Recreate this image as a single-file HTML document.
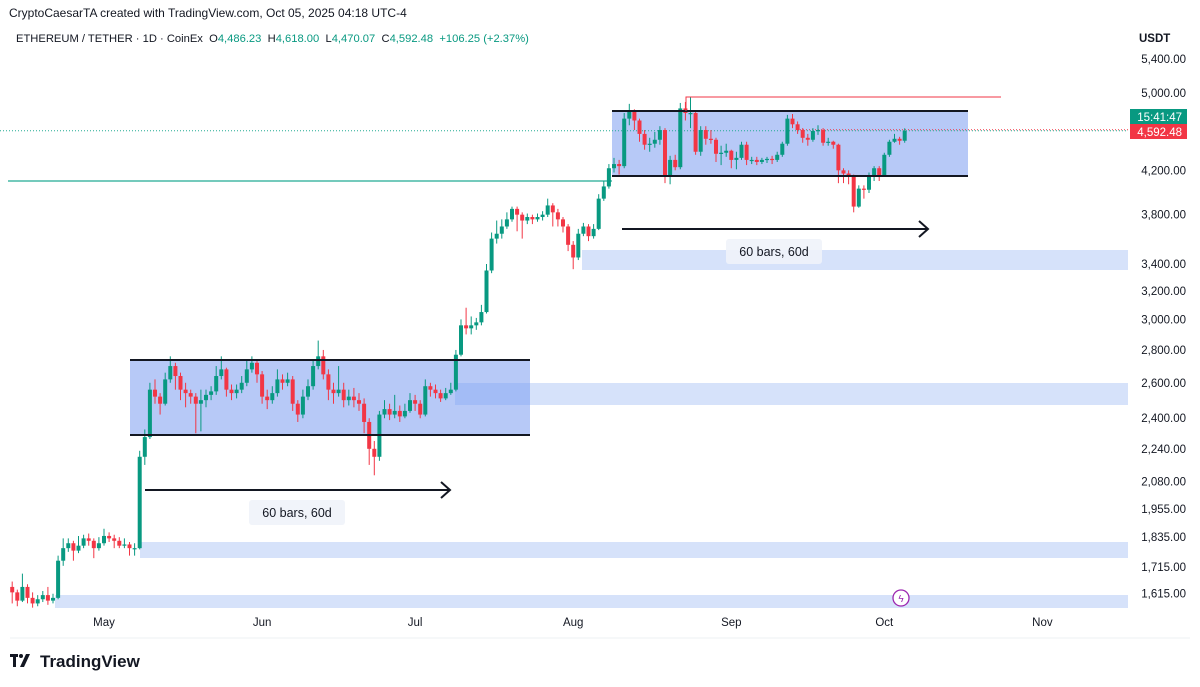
<!DOCTYPE html>
<html><head><meta charset="utf-8"><style>
body{margin:0;background:#fff;width:1200px;height:687px;overflow:hidden;font-family:"Liberation Sans",sans-serif;}
svg{position:absolute;left:0;top:0}
</style></head><body>
<svg id="chart" width="1200" height="687" viewBox="0 0 1200 687" xmlns="http://www.w3.org/2000/svg">
<text x="9" y="17" font-size="12" fill="#131722">CryptoCaesarTA created with TradingView.com, Oct 05, 2025 04:18 UTC-4</text>
<g font-size="11.2">
<text x="16" y="42" fill="#131722" style="white-space:pre">ETHEREUM / TETHER · 1D · CoinEx  O<tspan fill="#089981">4,486.23</tspan>  H<tspan fill="#089981">4,618.00</tspan>  L<tspan fill="#089981">4,470.07</tspan>  C<tspan fill="#089981">4,592.48</tspan>  <tspan fill="#089981">+106.25 (+2.37%)</tspan></text>
</g>
<text x="1139" y="42" font-size="11.5" font-weight="bold" fill="#131722">USDT</text>
<g id="zones"></g>
<g id="candles"></g>
<g id="overlay"></g>
<g id="yaxis" font-size="11.5" fill="#131722"></g>
<g id="xaxis" font-size="11.5" fill="#131722"></g>
<line x1="10" y1="638" x2="1190" y2="638" stroke="#eef0f3" stroke-width="1"/>
<g>
<rect x="10" y="654" width="8" height="3" fill="#131722"/><rect x="13" y="654" width="3" height="13" fill="#131722"/><polygon points="20,667 26,654 30,654 24,667" fill="#131722"/><circle cx="21" cy="656" r="2" fill="#131722"/>
<text x="40" y="667" font-size="17" font-weight="bold" fill="#131722">TradingView</text>
</g>
<g><circle cx="901" cy="598" r="8" fill="#fff" stroke="#9c27b0" stroke-width="1.3"/><text x="901" y="602" font-size="10" text-anchor="middle" fill="#9c27b0">ϟ</text></g>
</svg>
<script>
const closes=[1620,1590,1640,1600,1580,1595,1610,1590,1600,1740,
1790,1810,1780,1800,1830,1820,1790,1810,1840,1830,1820,1800,1805,1790,1790,
2200,
2300,2560,2520,2480,2620,2700,2640,2560,2540,2520,2480,2500,2530,2550,2640,2680,2560,2540,2560,2600,2680,2720,2650,
2520,2500,2540,2620,2600,2620,2480,2420,2520,2580,2700,2760,2650,2560,2540,2560,2500,2520,2500,2480,2380,2240,2200,2420,2450,2420,2440,2410,2440,2500,
2480,2420,2580,2560,2540,2510,2540,2560,
2770,2960,2940,2960,2980,3050,3350,3600,3640,3700,3760,3850,3800,3750,3780,3760,3780,3800,3880,3820,3760,3700,3550,3450,3640,3700,3620,3680,
3940,4050,4220,4260,4240,4720,4800,4700,4560,4450,4460,4500,4600,4150,4300,4230,
4830,4780,4780,4380,4600,4510,4500,4360,4370,4390,4300,4320,4450,4300,4300,4280,4300,4310,4300,4350,4460,4720,4660,4600,4520,4500,4590,4600,4470,4480,4450,4200,4170,4150,3870,4030,4020,4140,4220,4150,4350,4480,4510,4490,4592];
const highs=[1660,1630,1690,1650,1620,1610,1625,1640,1615,1760,
1830,1830,1820,1840,1845,1850,1830,1835,1870,1855,1845,1835,1830,1815,1810,
2230,
2340,2600,2620,2540,2660,2760,2720,2660,2600,2560,2540,2560,2560,2580,2700,2760,2690,2590,2590,2640,2740,2760,2740,
2670,2560,2580,2680,2650,2660,2640,2500,2560,2620,2740,2860,2800,2680,2600,2700,2600,2560,2570,2540,2510,2400,2280,2440,2500,2480,2530,2470,2480,2540,
2530,2500,2620,2600,2590,2560,2570,2600,
2800,3000,3080,3020,3010,3100,3400,3650,3750,3760,3820,3870,3870,3820,3810,3800,3810,3830,3940,3900,3850,3780,3720,3580,3680,3730,3720,3720,
3980,4100,4260,4320,4300,4780,4880,4820,4720,4600,4520,4580,4640,4620,4340,4350,
4890,4900,4956,4790,4640,4640,4600,4520,4440,4460,4400,4380,4480,4480,4330,4330,4320,4330,4340,4380,4480,4760,4770,4690,4620,4560,4620,4650,4620,4520,4490,4460,4220,4200,4160,4060,4060,4180,4240,4240,4370,4500,4560,4530,4618];
const lows=[1580,1570,1585,1580,1565,1570,1585,1575,1580,1595,
1720,1775,1740,1770,1790,1800,1750,1780,1800,1815,1790,1790,1790,1760,1760,
1785,
2160,2290,2480,2420,2470,2600,2560,2500,2460,2480,2320,2330,2460,2500,2530,2620,2520,2500,2510,2540,2580,2660,2600,
2480,2450,2480,2520,2560,2580,2440,2380,2400,2500,2560,2680,2620,2500,2480,2520,2460,2470,2460,2440,2320,2160,2110,2180,2400,2390,2400,2380,2400,2430,
2440,2400,2410,2520,2510,2490,2500,2530,
2550,2760,2900,2900,2930,2960,3040,3330,3560,3600,3680,3740,3660,3600,3720,3720,3740,3750,3780,3700,3700,3650,3500,3360,3430,3620,3580,3600,
3670,3920,4030,4180,4160,4220,4650,4600,4480,4400,4380,4420,4450,4080,4070,4200,
4210,4700,4620,4350,4340,4450,4460,4280,4250,4330,4220,4210,4300,4250,4260,4250,4260,4270,4260,4280,4330,4440,4620,4560,4470,4440,4480,4550,4440,4440,4410,4080,4080,4070,3820,3860,3940,3990,4100,4100,4140,4330,4470,4450,4470];
const firstOpen=1640;
const firstDay=-18;
const priceTicks=[5400,5000,4200,3800,3400,3200,3000,2800,2600,2400,2240,2080,1955,1835,1715,1615];
const monthLabels=["May","Jun","Jul","Aug","Sep","Oct","Nov"];
const monthDays=[0,31,61,92,123,153,184];

const NS="http://www.w3.org/2000/svg";
function X(d){return 104+d*5.1;}
function Y(p){return 59+Math.log(5400/p)*443;}
function el(tag,attrs,parent){const e=document.createElementNS(NS,tag);for(const k in attrs)e.setAttribute(k,attrs[k]);parent.appendChild(e);return e;}
const zones=document.getElementById('zones'),cg=document.getElementById('candles'),ov=document.getElementById('overlay');

function zone(name,x1,y1,x2,y2,fill){const r=el('rect',{x:x1,y:y1,width:x2-x1,height:y2-y1,fill:fill},zones);

}
zone('demand-zone-1',530,383,1128,405,'#d6e2fa');
zone('demand-zone-2',582,250,1128,270,'#d6e2fa');
zone('demand-zone-3',140,542,1128,558,'#d6e2fa');
zone('demand-zone-4',55,595,1128,608,'#d6e2fa');
zone('range-box-1',130,360,530,435,'#b7c9f7');
zone('range-box-2',612,111,968,176,'#b7c9f7');
zone('overlap-zone',455,383,530,405,'#a3bcf6');
const gl=el('line',{x1:8,y1:181,x2:612,y2:181,stroke:'#22ab94','stroke-width':1.3},zones);


const pl=el('line',{x1:0,y1:Y(4592.48),x2:1128,y2:Y(4592.48),stroke:'#22ab94','stroke-width':1,'stroke-dasharray':'1 2'},zones);


const rl=el('line',{x1:800,y1:Y(4592.48)-1,x2:1128,y2:Y(4592.48)-1,stroke:'#f23645','stroke-width':1,'stroke-dasharray':'1 2'},zones);



let prev=firstOpen;
closes.forEach((c,i)=>{
  const o=prev;prev=c;const x=X(firstDay+i);const up=c>=o;const col=up?'#089981':'#f23645';
  const w=el('line',{x1:x,y1:Y(highs[i]),x2:x,y2:Y(lows[i]),stroke:col,'stroke-width':1},cg);
  
  
  const top=Y(Math.max(o,c)),bot=Y(Math.min(o,c));
  const b=el('rect',{x:x-2,y:top,width:4,height:Math.max(1.2,bot-top),fill:col},cg);
  
  
});

[[130,360,530],[130,435,530],[612,111,968],[612,176,968]].forEach(a=>{
  const l=el('line',{x1:a[0],y1:a[1],x2:a[2],y2:a[1],stroke:'#131722','stroke-width':2},ov);
  
  
});
const ath=el('polyline',{points:'686,111 686,97 1001,97',fill:'none',stroke:'#f23645','stroke-width':1},ov);


function arrow(name,x1,x2,y){const g=el('g',{},ov);


el('line',{x1:x1,y1:y,x2:x2,y2:y,stroke:'#131722','stroke-width':2},g);
el('polyline',{points:(x2-9)+','+(y-8)+' '+x2+','+y+' '+(x2-9)+','+(y+8),fill:'none',stroke:'#131722','stroke-width':2},g);}
arrow('measure-arrow-1',145,450,490);
arrow('measure-arrow-2',622,928,229);
function label(name,x,y,w){const g=el('g',{},ov);


el('rect',{x:x,y:y,width:w,height:25,rx:3,fill:'#f0f3fa',opacity:0.9},g);
const t=el('text',{x:x+w/2,y:y+17,'font-size':12.5,'text-anchor':'middle',fill:'#131722'},g);t.textContent='60 bars, 60d';}
label('measure-label-1',249,500,96);
label('measure-label-2',726,239,96);

const ya=document.getElementById('yaxis');
priceTicks.forEach(p=>{const t=el('text',{x:1186,y:Y(p)+4,'text-anchor':'end'},ya);t.textContent=p.toLocaleString('en-US',{minimumFractionDigits:2});

});
const tb=el('rect',{x:1130,y:109,width:57,height:15,fill:'#089981'},ya);


const tt=el('text',{x:1182,y:121,'text-anchor':'end',fill:'#fff'},ya);tt.textContent='15:41:47';
const pb=el('rect',{x:1130,y:124,width:57,height:15,fill:'#f23645'},ya);


const pt=el('text',{x:1182,y:136,'text-anchor':'end',fill:'#fff'},ya);pt.textContent='4,592.48';

const xa=document.getElementById('xaxis');
monthLabels.forEach((m,i)=>{const t=el('text',{x:X(monthDays[i]),y:626,'text-anchor':'middle'},xa);t.textContent=m;

});
</script>
</body></html>
